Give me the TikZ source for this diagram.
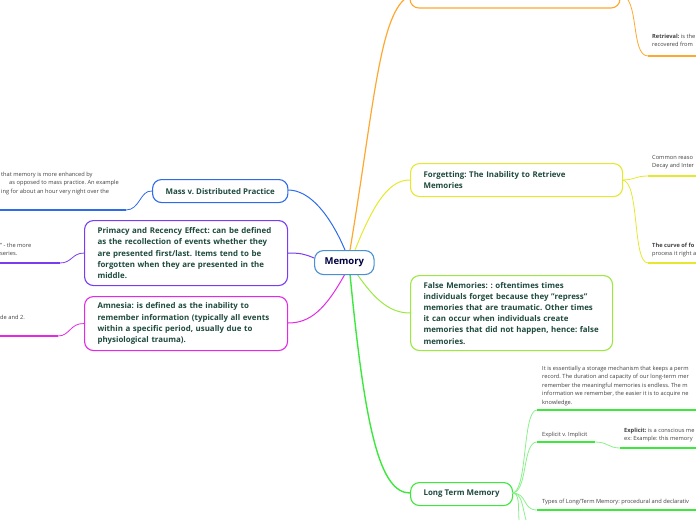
\documentclass[tikz,border=0pt]{standalone}
\usepackage{fontspec}
\setmainfont{Open Sans}
\frenchspacing
\hyphenpenalty=10000
\exhyphenpenalty=10000
\begin{document}
\begin{tikzpicture}[x=1pt,y=-1pt,
 box/.style={draw=#1,line width=1.1pt,rounded corners=9pt,fill=white,align=left,text=titc,font=\fontsize{7.9}{11.2}\selectfont\bfseries,inner xsep=13pt,inner ysep=5pt,anchor=north west},
 sm/.style={font=\fontsize{5.7}{8.4}\selectfont,text=black!75,align=left,inner sep=0pt},
 ln/.style={draw=#1,line width=0.8pt},
 ul/.style={draw=#1,line width=1.8pt}]
\definecolor{titc}{HTML}{1F4A3E}
\definecolor{cblue}{HTML}{2E6BEA}
\definecolor{cmem}{HTML}{4A90D0}
\definecolor{cpur}{HTML}{7A3CF0}
\definecolor{cmag}{HTML}{E22AE6}
\definecolor{cyel}{HTML}{E6E830}
\definecolor{clime}{HTML}{9BE840}
\definecolor{cgrn}{HTML}{3CE83C}
\definecolor{corg}{HTML}{FFA830}
\useasboundingbox (0,0) rectangle (696,520);
\clip (0,0) rectangle (696,520);
% connectors from Memory
\coordinate (m1) at (345,250);
\draw[ln=cblue,line width=1pt] (m1) .. controls (330,215) and (310,190) .. (288,190);
\draw[ln=corg,line width=1.2pt] (350,250) .. controls (375,100) and (380,5) .. (412,-5);
\draw[ln=cyel,line width=1pt] (355,250) .. controls (375,200) and (390,180) .. (410,180);
\draw[ln=cpur,line width=1pt] (314,258) .. controls (305,254) and (300,253) .. (288,253);
\draw[ln=cmag,line width=1pt] (345,274) .. controls (325,310) and (310,323) .. (288,323);
\draw[ln=clime,line width=1pt] (357,274) .. controls (375,300) and (390,313) .. (410,313);
\draw[ln=cgrn,line width=1.4pt] (350,274) .. controls (365,430) and (380,493) .. (410,493);
% boxes
\node[box=cmem,text=black!75!blue,font=\fontsize{9.5}{11}\selectfont\bfseries,inner xsep=10pt,minimum height=24pt] (mem) at (314,250) {Memory};
\node[box=cblue,minimum width=135pt,minimum height=23pt,align=center] (mass) at (152,179) {Mass v. Distributed Practice};
\node[box=cpur,text width=177pt,minimum height=65pt] (prim) at (84,220) {Primacy and Recency Effect: can be defined as the recollection of events whether they are presented first/last. Items tend to be forgotten when they are presented in the middle.};
\node[box=cmag,text width=177pt,minimum height=54pt] (amn) at (84,296) {Amnesia: is defined as the inability to remember information (typically all events within a specific period, usually due to physiological trauma).};
\node[box=cyel,text width=186pt,minimum height=33pt] (forg) at (410,163) {Forgetting: The Inability to Retrieve\\Memories};
\node[box=clime,text width=176pt,minimum height=75pt] (fals) at (410,275) {False Memories: : oftentimes times individuals forget because they "repress" memories that are traumatic. Other times it can occur when individuals create memories that did not happen, hence: false memories.};
\node[box=cgrn,minimum width=102pt,minimum height=23pt,align=center] (ltm) at (410,482) {Long Term Memory};
\draw[draw=corg,line width=1.1pt,rounded corners=9pt,fill=white] (410,-30) rectangle (620,8);
% left branches
\coordinate (a1) at (126,210); \coordinate (a0) at (0,210);
\draw[ln=cblue] (mass.west) .. controls (140,190) and (140,210) .. (a1);
\draw[ul=cblue] (a1) -- (a0);
\node[sm,anchor=north west] (t1) at (1,172) {that memory is more enhanced by\\\hspace*{8pt}as opposed to mass practice. An example\\ing for about an hour very night over the};
\coordinate (b1) at (60,263); \coordinate (b0) at (0,263);
\draw[ln=cpur] (prim.west) .. controls (72,253) and (72,263) .. (b1);
\draw[ul=cpur] (b1) -- (b0);
\node[sm,anchor=north west] (t2) at (0,243) {" - the more\\series.};
\coordinate (c1) at (58,336); \coordinate (c0) at (0,336);
\draw[ln=cmag] (amn.west) .. controls (70,323) and (70,336) .. (c1);
\draw[ul=cmag] (c1) -- (c0);
\node[sm,anchor=north west] (t3) at (0,315) {de and 2.};
% forgetting branches
\coordinate (f0) at (622,180);
\coordinate (f1) at (648,176); \coordinate (f2) at (648,263);
\draw[ln=cyel] (f0) .. controls (635,180) and (635,176) .. (f1);
\draw[ln=cyel] (f0) .. controls (640,180) and (632,263) .. (f2);
\draw[ul=cyel] (f1) -- (696,176);
\draw[ul=cyel] (f2) -- (696,263);
\node[sm,anchor=north west] (t4) at (652,155) {Common reaso\\Decay and Inter};
\node[sm,anchor=north west] (t5) at (652,243) {\textbf{The curve of fo}\\process it right a};
% orange branch
\coordinate (o0) at (620,-5); \coordinate (o1) at (648,56);
\draw[ln=corg] (o0) .. controls (640,-5) and (630,56) .. (o1);
\draw[ul=corg] (o1) -- (696,56);
\node[sm,anchor=north west] (t6) at (652,34) {\textbf{Retrieval:} is the\\recovered from};
% long term branches
\coordinate (l0) at (512,493);
\coordinate (l1) at (537,410); \coordinate (l2) at (537,442); \coordinate (l3) at (537,510);
\draw[ln=cgrn!60] (l0) .. controls (528,493) and (522,410) .. (l1);
\draw[ln=cgrn!60] (l0) .. controls (528,493) and (522,442) .. (l2);
\draw[ln=cgrn!60] (l0) .. controls (528,493) and (522,510) .. (l3);
\draw[ln=cgrn!60] (l0) .. controls (522,493) and (522,505) .. (526,520);
\draw[ln=cgrn!60] (l0) .. controls (520,493) and (518,505) .. (519,520);
\draw[ul=cgrn] (l1) -- (696,410);
\draw[ul=cgrn] (l2) -- (595,442);
\draw[ul=cgrn] (l3) -- (696,510);
\coordinate (e0) at (595,442); \coordinate (e1) at (620,448);
\draw[ln=cgrn!60] (e0) .. controls (608,442) and (608,448) .. (e1);
\draw[ul=cgrn] (e1) -- (696,448);
\node[sm,anchor=north west] (t7) at (542,366) {It is essentially a storage mechanism that keeps a perm\\record. The duration and capacity of our long-term mer\\remember the meaningful memories is endless. The m\\information we remember, the easier it is to acquire ne\\knowledge.};
\node[sm,anchor=north west] (t8) at (542,432) {Explicit v. Implicit};
\node[sm,anchor=north west] (t9) at (624,428) {\textbf{Explicit:} is a conscious me\\ex: Example: this memory};
\node[sm,anchor=north west] (t10) at (542,499) {Types of Long/Term Memory: procedural and declarativ};
\end{tikzpicture}
\end{document}
